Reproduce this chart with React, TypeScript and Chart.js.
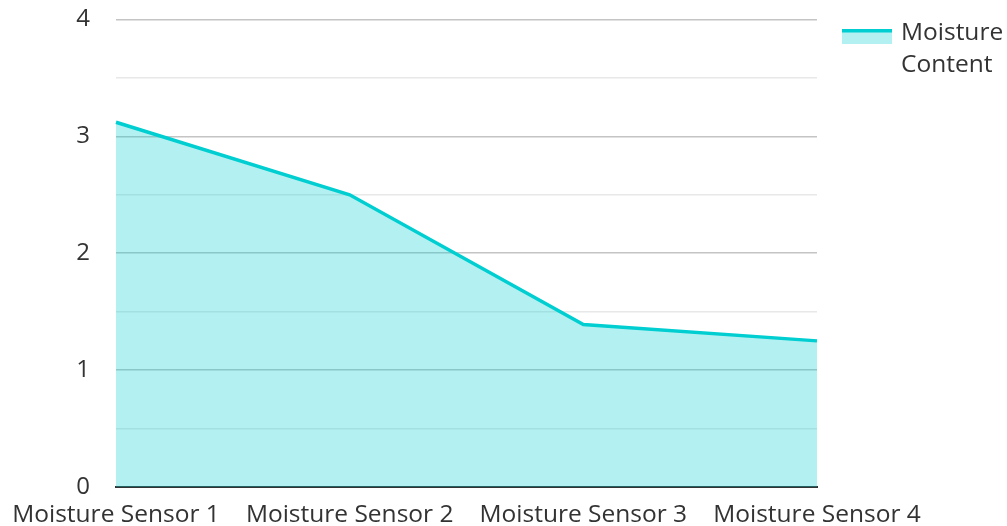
import React, { useEffect, useRef } from "react";
import { Chart, registerables } from "chart.js";

Chart.register(...registerables);

const categories = ["Moisture Sensor 1", "Moisture Sensor 2", "Moisture Sensor 3", "Moisture Sensor 4"];
const moistureValues = [3.12, 2.5, 1.39, 1.25];
const seriesLabel = ["Moisture", "Content"];
const yTickLabels = ["0", "1", "2", "3", "4"];

const LINE = "#00CED1";
const FILL = "rgba(0, 206, 209, 0.3)";
const FONT = "'Open Sans', 'Noto Sans', sans-serif";
const TEXT = "#333333";

const legendPlugin = {
  id: "customLegend",
  afterDraw(chart: any) {
    const ctx = chart.ctx;
    const area = chart.chartArea;
    const x0 = area.right + 25;
    ctx.save();
    ctx.fillStyle = FILL;
    ctx.fillRect(x0, 29, 50, 15);
    ctx.fillStyle = LINE;
    ctx.fillRect(x0, 29, 50, 3.5);
    ctx.fillStyle = TEXT;
    ctx.font = `24.5px ${FONT}`;
    ctx.textAlign = "left";
    ctx.textBaseline = "alphabetic";
    seriesLabel.forEach((t, i) => ctx.fillText(t, x0 + 59, 40 + i * 32));
    ctx.restore();
  },
};

export default function App() {
  const ref = useRef<HTMLCanvasElement>(null);
  useEffect(() => {
    document.body.style.margin = "0";
    const chart = new Chart(ref.current!, {
      type: "line",
      data: {
        labels: categories,
        datasets: [
          {
            label: seriesLabel.join(" "),
            data: moistureValues,
            borderColor: LINE,
            backgroundColor: FILL,
            borderWidth: 3.5,
            fill: "origin",
            pointRadius: 0,
            tension: 0,
          },
        ],
      },
      options: {
        responsive: false,
        animation: false,
        layout: { padding: { top: 0, right: 190, left: 0, bottom: 0 } },
        plugins: { legend: { display: false }, tooltip: { enabled: false } },
        scales: {
          x: {
            type: "category",
            offset: false,
            grid: { display: false, drawTicks: true, tickLength: 13, tickColor: "rgba(0,0,0,0)" },
            border: { display: true, color: "#333333", width: 2 },
            ticks: {
              autoSkip: false,
              maxRotation: 0,
              padding: 0,
              color: TEXT,
              font: { family: FONT, size: 24.5 },
            },
            afterFit: (s: any) => {
              s.height = 39;
            },
          },
          y: {
            min: 0,
            max: 4,
            border: { display: false },
            grid: {
              drawTicks: true,
              tickLength: 21,
              tickColor: "rgba(0,0,0,0)",
              color: (c: any) => (c.tick && c.tick.value % 1 === 0 ? "#c4c4c4" : "#e8e8e8"),
              lineWidth: 1.5,
            },
            ticks: {
              stepSize: 0.5,
              padding: 5,
              color: TEXT,
              font: { family: FONT, size: 24 },
              callback: (v: any) => (Number(v) % 1 === 0 ? yTickLabels[Number(v)] : ""),
            },
            afterFit: (s: any) => {
              s.width = 116;
            },
          },
        },
      },
      plugins: [legendPlugin],
    });
    return () => chart.destroy();
  }, []);
  return (
    <div style={{ width: 1007, height: 526 }}>
      <canvas ref={ref} width={1007} height={526} style={{ display: "block" }} />
    </div>
  );
}
